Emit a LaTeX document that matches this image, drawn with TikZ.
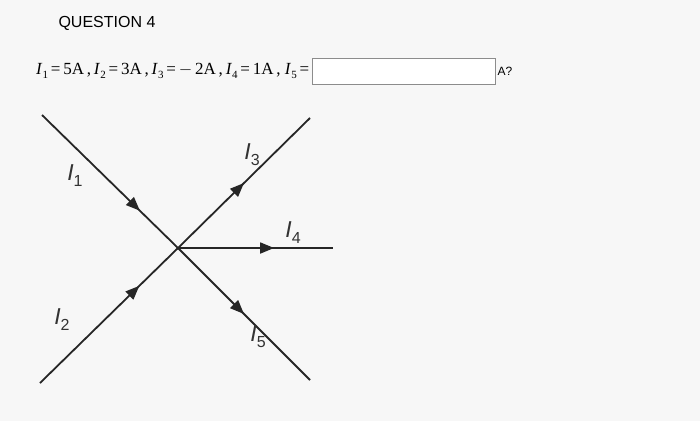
\documentclass[tikz,border=0pt]{standalone}
\usepackage{fontspec}
\setmainfont{Liberation Serif}
\newfontfamily\sansf{Liberation Sans}
\usetikzlibrary{decorations.markings,arrows.meta}
\newcommand{\cur}[1]{{\sansf\itshape I}\raisebox{-6pt}{\sansf\fontsize{16}{16}\selectfont #1}}
\newcommand{\eqI}[1]{\textit{I}\raisebox{-4pt}{\fontsize{11}{11}\selectfont #1}}
\tikzset{
 wire/.style={line width=1.8pt,black!85},
 midarr/.style={postaction={decorate},decoration={markings,mark=at position #1 with {\arrow{Triangle[length=14pt,width=11pt]}}}},
 lbl/.style={font=\sansf\fontsize{23}{23}\selectfont,text=black!80}
}
\begin{document}
\begin{tikzpicture}[x=1pt,y=-1pt]
\fill[black!3] (0,0) rectangle (700,421);
\useasboundingbox (0,0) rectangle (700,421);
\node[anchor=west,font=\sansf\fontsize{16}{16}\selectfont] (q) at (55,23) {QUESTION 4};
\node[anchor=west,font=\fontsize{17}{17}\selectfont,inner sep=0] (eq) at (36,71) {\eqI{1}\,=\,5A\,,\,\eqI{2}\,=\,3A\,,\,\eqI{3}\,=\,$-$\,2A\,,\,\eqI{4}\,=\,1A\,,\ \eqI{5}\,=};
\node[draw=black!45,fill=white,minimum width=183pt,minimum height=26pt,anchor=west,inner sep=0] (box) at (312,71) {};
\node[anchor=west,font=\sansf\fontsize{12}{12}\selectfont] (a) at (494,71) {A?};
\coordinate (c) at (178,248);
\coordinate (p1) at (42,115);
\coordinate (p5) at (310,380);
\coordinate (p2) at (40,383);
\coordinate (p3) at (310,118);
\coordinate (p4) at (333,248);
\draw[wire,midarr=0.72] (p1) -- (c);
\draw[wire,midarr=0.5] (c) -- (p5);
\draw[wire,midarr=0.72] (p2) -- (c);
\draw[wire,midarr=0.5] (c) -- (p3);
\draw[wire,midarr=0.62] (c) -- (p4);
\node[lbl] (l1) at (75,176) {\cur{1}};
\node[lbl] (l3) at (252,155) {\cur{3}};
\node[lbl] (l4) at (293,233) {\cur{4}};
\node[lbl] (l2) at (62,320) {\cur{2}};
\node[lbl] (l5) at (258,337) {\cur{5}};
\end{tikzpicture}
\end{document}
